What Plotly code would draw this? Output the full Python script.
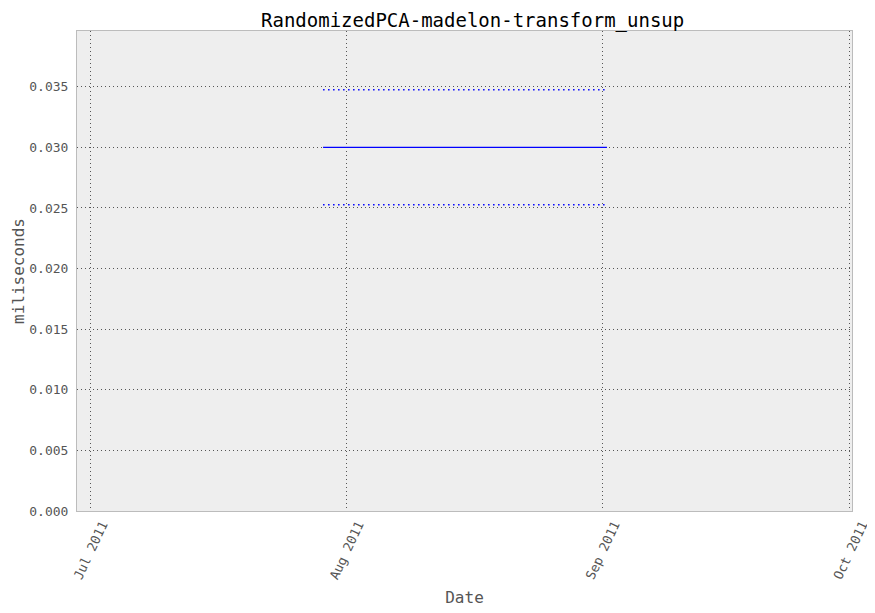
import plotly.graph_objects as go

# measured run dates and timings (ms)
dates = ["2011-07-29 05:00", "2011-09-01 14:00"]
mean_ms = [0.0300, 0.0300]
upper_ms = [0.03475, 0.03475]
lower_ms = [0.02526, 0.02526]

tick_dates = ["2011-07-01", "2011-08-01", "2011-09-01", "2011-10-01"]
tick_labels = ["Jul 2011", "Aug 2011", "Sep 2011", "Oct 2011"]

fig = go.Figure()
fig.add_trace(go.Scatter(x=dates, y=upper_ms, mode="lines",
                         line=dict(color="blue", width=1.5, dash="1.5px,3.5px")))
fig.add_trace(go.Scatter(x=dates, y=mean_ms, mode="lines",
                         line=dict(color="blue", width=1.3)))
fig.add_trace(go.Scatter(x=dates, y=lower_ms, mode="lines",
                         line=dict(color="blue", width=1.5, dash="1.5px,3.5px")))

mono = "DejaVu Sans Mono"
fig.update_layout(
    width=875, height=613,
    margin=dict(l=69, r=31, t=23, b=110),
    paper_bgcolor="white",
    plot_bgcolor="#eeeeee",
    showlegend=False,
    title=dict(text="RandomizedPCA-madelon-transform_unsup", x=0.531, xanchor="center",
               y=0.980, yanchor="middle", font=dict(family=mono, size=19, color="black")),
    font=dict(family=mono, color="#555555"),
)
fig.update_xaxes(
    type="date",
    range=["2011-06-29 10:00", "2011-10-01 06:00"],
    tickvals=tick_dates, ticktext=tick_labels, tickangle=-65,
    ticklabelshift=12, automargin=False,
    tickfont=dict(size=13, color="#555555"),
    showgrid=True, gridcolor="#555555", griddash="1px,3px", gridwidth=1,
    showline=True, linecolor="#bcbcbc", mirror=True, zeroline=False,
    ticks="", title=dict(text="Date", font=dict(size=16, color="#555555"), standoff=10),
)
fig.update_yaxes(
    range=[0, 0.0396],
    tickvals=[0, 0.005, 0.01, 0.015, 0.02, 0.025, 0.03, 0.035],
    tickformat=".3f",
    ticklabelstandoff=5, automargin=False,
    tickfont=dict(size=13, color="#555555"),
    showgrid=True, gridcolor="#555555", griddash="1px,3px", gridwidth=1,
    showline=True, linecolor="#bcbcbc", mirror=True, zeroline=False,
    ticks="", title=dict(text="miliseconds", font=dict(size=16, color="#555555"), standoff=0),
)

fig.write_html("out.html")
